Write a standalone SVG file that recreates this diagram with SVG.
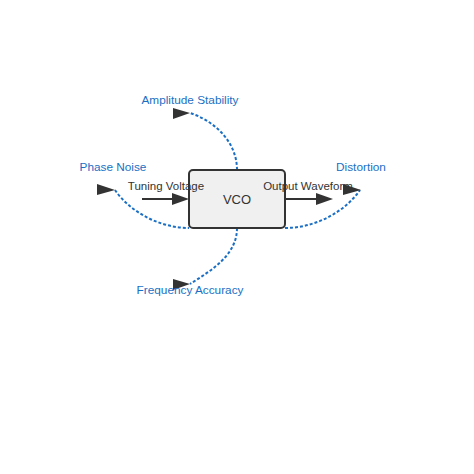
<svg xmlns="http://www.w3.org/2000/svg" width="474" height="474" viewBox="0 0 474 474">
<style>
.lbl{font-family:"Liberation Sans",Arial,sans-serif;font-size:11.8px;fill:#1a6fc4;text-anchor:middle}
.io{font-family:"Liberation Sans",Arial,sans-serif;font-size:11.5px;fill:#333;text-anchor:middle}
.dash{fill:none;stroke:#1a6fc4;stroke-width:2;stroke-dasharray:3,2}
.solid{fill:none;stroke:#333;stroke-width:2}
.head{fill:#333}
</style>
<rect width="474" height="474" fill="#fff"/>
<g id="connectors">
<path class="dash" d="M237,170 C237,140 212,120 190,113"/>
<path class="dash" d="M115,190 C130,212 160,228 189,228"/>
<path class="dash" d="M285,228 C315,228 345,212 360,190"/>
<path class="dash" d="M237,228 C237,255 212,270 190,284"/>
<polygon class="head" points="173,108 190,113 173,119"/>
<polygon class="head" points="97,184 115,190 97,195"/>
<polygon class="head" points="343,184 361,190 343,195"/>
<polygon class="head" points="173,279 190,284 173,290"/>
<line class="solid" x1="142" y1="199" x2="175" y2="199"/>
<polygon class="head" points="172,193 189,199 172,205"/>
<line class="solid" x1="285" y1="199" x2="318" y2="199"/>
<polygon class="head" points="316,193 333,199 316,205"/>
</g>
<g id="vco">
<rect x="189" y="170" width="96" height="58" rx="4" fill="#f0f0f0" stroke="#333" stroke-width="2"/>
<text class="io" x="237" y="204" style="font-size:13px">VCO</text>
</g>
<g id="edge-labels">
<text class="io" x="166" y="190">Tuning Voltage</text>
<text class="io" x="308" y="190">Output Waveform</text>
</g>
<g id="amplitude-stability"><text class="lbl" x="190" y="104">Amplitude Stability</text></g>
<g id="phase-noise"><text class="lbl" x="113" y="171">Phase Noise</text></g>
<g id="distortion"><text class="lbl" x="361" y="171">Distortion</text></g>
<g id="frequency-accuracy"><text class="lbl" x="190" y="294">Frequency Accuracy</text></g>
</svg>
